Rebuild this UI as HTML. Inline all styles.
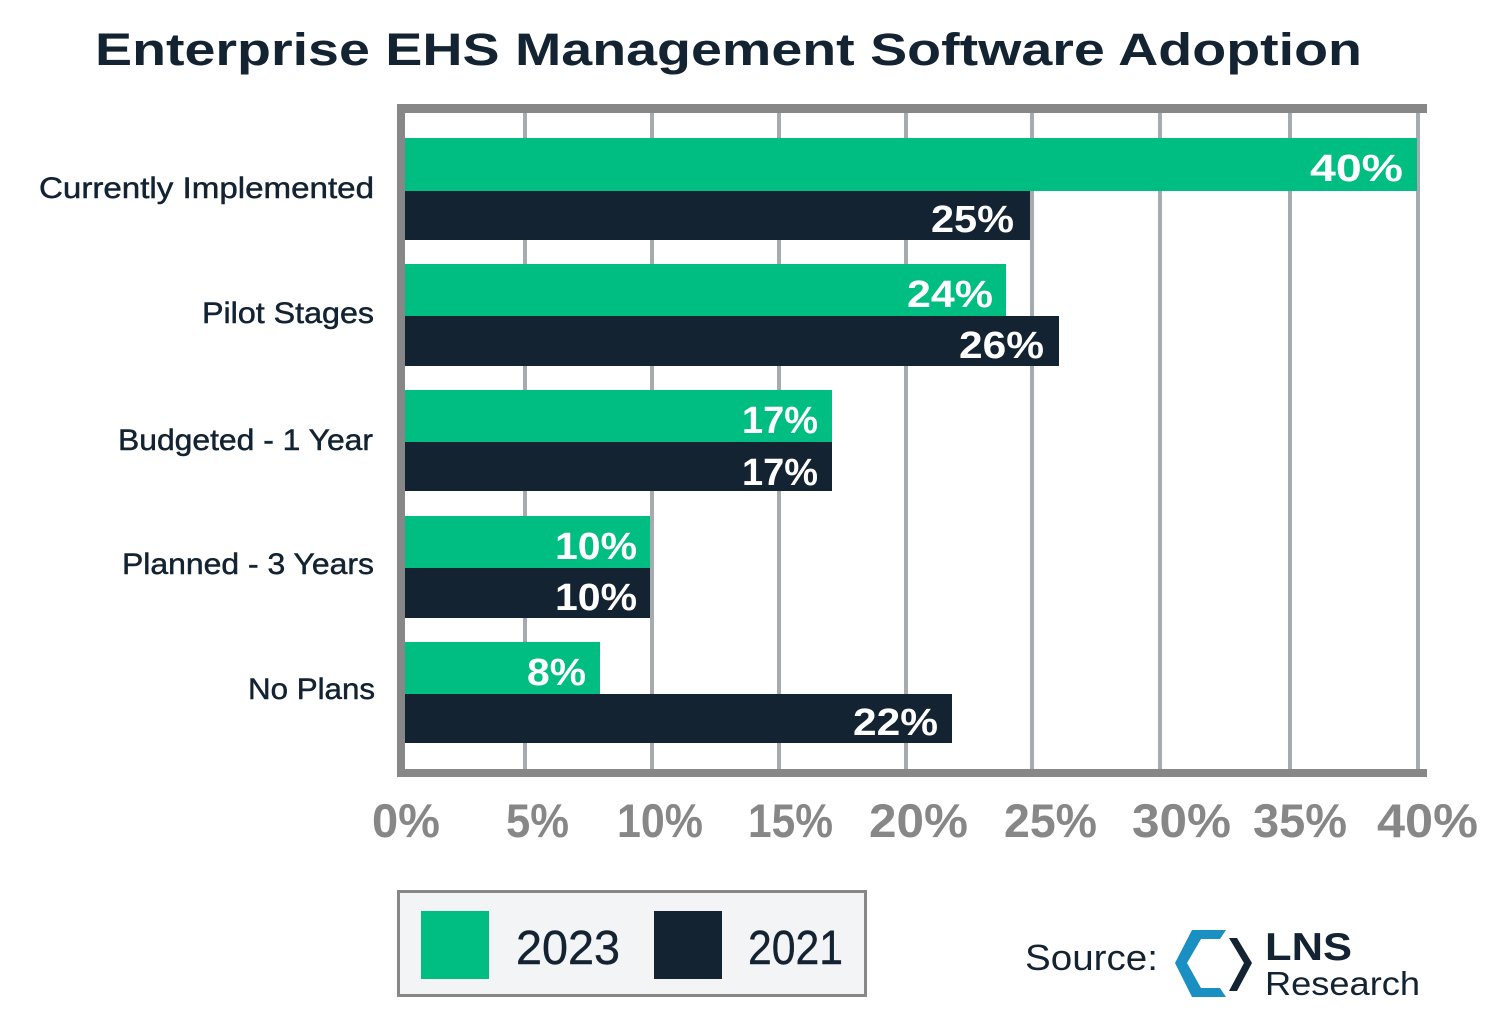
<!DOCTYPE html>
<html>
<head>
<meta charset="utf-8">
<style>
  html,body{margin:0;padding:0;background:#ffffff;}
  svg{display:block;}
  text{font-family:"Liberation Sans", sans-serif;}
</style>
</head>
<body>
<svg width="1500" height="1021" viewBox="0 0 1500 1021" xmlns="http://www.w3.org/2000/svg">
  <rect x="0" y="0" width="1500" height="1021" fill="#ffffff"/>

  <!-- Title -->
  <text x="95" y="65" font-size="45" font-weight="bold" fill="#132332" textLength="1267" lengthAdjust="spacingAndGlyphs">Enterprise EHS Management Software Adoption</text>

  <!-- Gridlines -->
  <g fill="#a6abb0">
    <rect x="523" y="112" width="4" height="658"/>
    <rect x="650" y="112" width="4" height="658"/>
    <rect x="777" y="112" width="4" height="658"/>
    <rect x="904" y="112" width="4" height="658"/>
    <rect x="1030" y="112" width="4" height="658"/>
    <rect x="1158" y="112" width="4" height="658"/>
    <rect x="1288" y="112" width="4" height="658"/>
    <rect x="1416" y="112" width="4" height="658"/>
  </g>

  <!-- Bars -->
  <g>
    <!-- Currently Implemented -->
    <rect x="405" y="138" width="1012" height="53" fill="#00be82"/>
    <rect x="405" y="191" width="625" height="49" fill="#132332"/>
    <!-- Pilot Stages -->
    <rect x="405" y="264" width="601" height="52" fill="#00be82"/>
    <rect x="405" y="316" width="654" height="50" fill="#132332"/>
    <!-- Budgeted -->
    <rect x="405" y="390" width="427" height="52" fill="#00be82"/>
    <rect x="405" y="442" width="427" height="49" fill="#132332"/>
    <!-- Planned -->
    <rect x="405" y="516" width="245" height="52" fill="#00be82"/>
    <rect x="405" y="568" width="245" height="50" fill="#132332"/>
    <!-- No Plans -->
    <rect x="405" y="642" width="195" height="52" fill="#00be82"/>
    <rect x="405" y="694" width="547" height="49" fill="#132332"/>
  </g>

  <!-- Frame -->
  <g fill="#878787">
    <rect x="397" y="104" width="1030" height="9"/>
    <rect x="397" y="104" width="8" height="673"/>
    <rect x="397" y="769" width="1030" height="8"/>
  </g>

  <!-- Value labels -->
  <g font-size="38" font-weight="bold" fill="#ffffff" text-anchor="end">
    <text x="1403" y="181" textLength="93" lengthAdjust="spacingAndGlyphs">40%</text>
    <text x="1014" y="232" textLength="83" lengthAdjust="spacingAndGlyphs">25%</text>
    <text x="993" y="307" textLength="86" lengthAdjust="spacingAndGlyphs">24%</text>
    <text x="1044" y="358" textLength="85" lengthAdjust="spacingAndGlyphs">26%</text>
    <text x="818" y="433" textLength="76" lengthAdjust="spacingAndGlyphs">17%</text>
    <text x="818" y="485" textLength="76" lengthAdjust="spacingAndGlyphs">17%</text>
    <text x="637" y="559" textLength="82" lengthAdjust="spacingAndGlyphs">10%</text>
    <text x="637" y="610" textLength="82" lengthAdjust="spacingAndGlyphs">10%</text>
    <text x="586" y="685" textLength="59" lengthAdjust="spacingAndGlyphs">8%</text>
    <text x="938" y="735" textLength="85" lengthAdjust="spacingAndGlyphs">22%</text>
  </g>

  <!-- Category labels -->
  <g font-size="30" fill="#132332" stroke="#132332" stroke-width="0.5" text-anchor="end">
    <text x="374" y="198" textLength="335" lengthAdjust="spacingAndGlyphs">Currently Implemented</text>
    <text x="374" y="323" textLength="172" lengthAdjust="spacingAndGlyphs">Pilot Stages</text>
    <text x="373" y="450" textLength="255" lengthAdjust="spacingAndGlyphs">Budgeted - 1 Year</text>
    <text x="374" y="574" textLength="252" lengthAdjust="spacingAndGlyphs">Planned - 3 Years</text>
    <text x="375" y="699" textLength="127" lengthAdjust="spacingAndGlyphs">No Plans</text>
  </g>

  <!-- Axis tick labels -->
  <g font-size="47" font-weight="bold" fill="#878787">
    <text x="372" y="837" textLength="68" lengthAdjust="spacingAndGlyphs">0%</text>
    <text x="506" y="837" textLength="63" lengthAdjust="spacingAndGlyphs">5%</text>
    <text x="617" y="837" textLength="86" lengthAdjust="spacingAndGlyphs">10%</text>
    <text x="748" y="837" textLength="85" lengthAdjust="spacingAndGlyphs">15%</text>
    <text x="869" y="837" textLength="99" lengthAdjust="spacingAndGlyphs">20%</text>
    <text x="1004" y="837" textLength="93" lengthAdjust="spacingAndGlyphs">25%</text>
    <text x="1132" y="837" textLength="99" lengthAdjust="spacingAndGlyphs">30%</text>
    <text x="1253" y="837" textLength="94" lengthAdjust="spacingAndGlyphs">35%</text>
    <text x="1377" y="837" textLength="101" lengthAdjust="spacingAndGlyphs">40%</text>
  </g>

  <!-- Legend -->
  <rect x="398.5" y="891.5" width="467" height="104" fill="#f3f4f6" stroke="#878787" stroke-width="3"/>
  <rect x="421" y="911" width="68" height="68" fill="#00be82"/>
  <text x="516" y="964" font-size="48" fill="#132332" stroke="#132332" stroke-width="0.4" textLength="104" lengthAdjust="spacingAndGlyphs">2023</text>
  <rect x="654" y="911" width="68" height="68" fill="#132332"/>
  <text x="748" y="964" font-size="48" fill="#132332" stroke="#132332" stroke-width="0.4" textLength="95" lengthAdjust="spacingAndGlyphs">2021</text>

  <!-- Source -->
  <text x="1025" y="970" font-size="36" fill="#132332" textLength="133" lengthAdjust="spacingAndGlyphs">Source:</text>
  <polygon points="1192,930 1226,930 1220,939 1201,939 1187,963 1201,988 1220,988 1226,997 1192,997 1175,963" fill="#1a8fc2"/>
  <polygon points="1229,938 1237,938 1252,963 1237,991 1229,991 1244,963" fill="#132332"/>
  <text x="1265" y="960" font-size="39" font-weight="bold" fill="#132332" textLength="87" lengthAdjust="spacingAndGlyphs">LNS</text>
  <text x="1265" y="995" font-size="33" fill="#132332" textLength="155" lengthAdjust="spacingAndGlyphs">Research</text>
</svg>
</body>
</html>
